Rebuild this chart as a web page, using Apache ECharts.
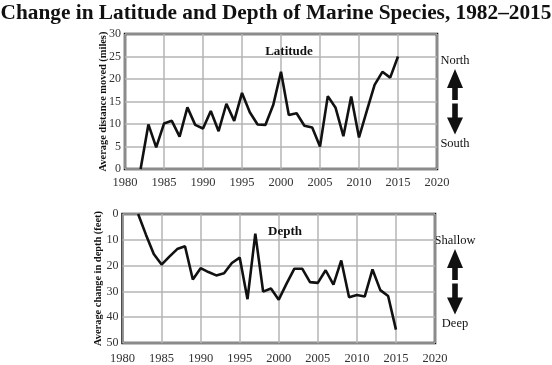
<!DOCTYPE html>
<html><head><meta charset="utf-8">
<script src="https://cdn.jsdelivr.net/npm/echarts@6/dist/echarts.min.js"></script>
<style>html,body{margin:0;padding:0;background:#fff}#c{width:552px;height:365px}</style>
</head><body><div id="c"></div>
<script>
const years = [1982,1983,1984,1985,1986,1987,1988,1989,1990,1991,1992,1993,1994,1995,1996,1997,1998,1999,2000,2001,2002,2003,2004,2005,2006,2007,2008,2009,2010,2011,2012,2013,2014,2015];
const latitudeMiles = [0,9.9,4.8,10.1,10.7,7.2,13.7,9.8,9.0,12.9,8.4,14.5,10.7,16.9,12.6,9.9,9.8,14.2,21.6,12.0,12.4,9.6,9.2,5.0,16.2,13.6,7.3,16.1,7.0,12.9,18.7,21.6,20.3,25.0];
const depthFeet = [0,8,15.5,19.6,16.5,13.6,12.5,25.4,21,22.5,23.8,23,19,16.9,33,7.6,30.1,28.9,33.2,27,21.2,21.2,26.4,26.7,21.8,27.4,18,32.3,31.4,32,21.5,29.5,31.8,44.8];
const titleText = 'Change in Latitude and Depth of Marine Species, 1982\u20132015';
const latitudeName = 'Average distance moved (miles)';
const depthName = 'Average change in depth (feet)';

const serif = '"Liberation Serif", "DejaVu Serif", serif';
const chart = echarts.init(document.getElementById('c'), null, {renderer:'canvas'});
const gridStyle = {show:true, borderColor:'#111', borderWidth:2.5, backgroundColor:'transparent'};
const xAx = (gi, m) => ({
  type:'value', gridIndex:gi, min:1980, max:2020, interval:5,
  axisLine:{show:false}, axisTick:{show:false},
  axisLabel:{fontFamily:serif, fontSize:12.5, color:'#333', margin:m, formatter:(v)=>String(v)},
  splitLine:{show:true, lineStyle:{color:'#b4b4b4', width:1.5}}
});
function arrow(cx, top, bot){
  const mid=(top+bot)/2;
  return [
    {type:'polygon', shape:{points:[[cx,top],[cx+8,top+19],[cx+2.8,top+19],[cx+2.8,mid-1.8],[cx-2.8,mid-1.8],[cx-2.8,top+19],[cx-8,top+19]]}, style:{fill:'#111'}},
    {type:'polygon', shape:{points:[[cx,bot],[cx+8,bot-17],[cx+2.8,bot-17],[cx+2.8,mid+1.8],[cx-2.8,mid+1.8],[cx-2.8,bot-17],[cx-8,bot-17]]}, style:{fill:'#111'}}
  ];
}
const sideText = (t,x,y) => ({type:'text', x:x, y:y, style:{text:t, font:'12.5px '+serif, fill:'#111', align:'center', verticalAlign:'middle'}});
chart.setOption({
  animation:false,
  title:[
    {text:titleText, left:'center', top:-2, textStyle:{fontFamily:serif, fontWeight:'bold', fontSize:21.3, color:'#111'}},
    {text:'Latitude', left:284, top:40, textAlign:'center', textStyle:{fontFamily:serif, fontWeight:'bold', fontSize:13, color:'#111'}},
    {text:'Depth', left:280, top:220, textAlign:'center', textStyle:{fontFamily:serif, fontWeight:'bold', fontSize:13, color:'#111'}}
  ],
  grid:[
    Object.assign({left:125, top:34, width:312, height:135}, gridStyle),
    Object.assign({left:122.5, top:214, width:312.5, height:134}, gridStyle)
  ],
  xAxis:[xAx(0,7), xAx(1,9)],
  yAxis:[
    {type:'value', gridIndex:0, min:0, max:30, interval:5,
     name:latitudeName, nameLocation:'middle', nameGap:17, nameRotate:90, nameMoveOverlap:false,
     nameTextStyle:{fontFamily:serif, fontWeight:'bold', fontSize:10.4, color:'#111'},
     axisLine:{show:false}, axisTick:{show:false},
     axisLabel:{fontFamily:serif, fontSize:12, color:'#333', margin:4},
     splitLine:{show:true, lineStyle:{color:'#b4b4b4', width:1.5}}},
    {type:'value', gridIndex:1, min:0, max:50, interval:10, inverse:true,
     name:depthName, nameLocation:'middle', nameGap:19, nameRotate:90, nameMoveOverlap:false,
     nameTextStyle:{fontFamily:serif, fontWeight:'bold', fontSize:10.4, color:'#111'},
     axisLine:{show:false}, axisTick:{show:false},
     axisLabel:{fontFamily:serif, fontSize:12, color:'#333', margin:4},
     splitLine:{show:true, lineStyle:{color:'#b4b4b4', width:1.5}}}
  ],
  series:[
    {type:'line', xAxisIndex:0, yAxisIndex:0, data:years.map((y,i)=>[y,latitudeMiles[i]]), symbol:'none', lineStyle:{color:'#111', width:2.6}, z:5},
    {type:'line', xAxisIndex:1, yAxisIndex:1, data:years.map((y,i)=>[y,depthFeet[i]]), symbol:'none', lineStyle:{color:'#111', width:2.6}, z:5}
  ],
  graphic:[
    sideText('North',455,61), sideText('South',455,144),
    sideText('Shallow',455,241), sideText('Deep',455,324),
    ...arrow(455,69,134.5), ...arrow(455,249,314.5)
  ]
});
</script></body></html>
